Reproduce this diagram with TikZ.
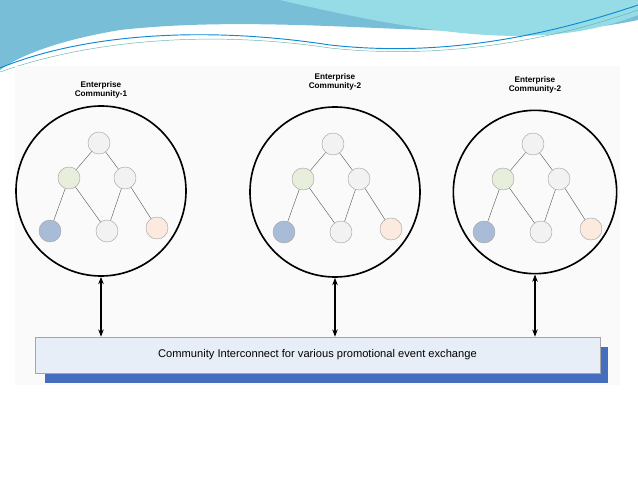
\documentclass[tikz,border=0pt]{standalone}
\usepackage{fontspec}
\setmainfont{Liberation Sans}
\usetikzlibrary{positioning,arrows.meta,calc}
\definecolor{waveA}{RGB}{120,190,215}
\definecolor{waveB}{RGB}{150,220,230}
\definecolor{busshadow}{RGB}{70,110,190}
\definecolor{boxfill}{RGB}{232,238,248}
\definecolor{nodegreen}{RGB}{232,238,220}
\definecolor{nodeblue}{RGB}{168,188,215}
\definecolor{nodepeach}{RGB}{252,234,222}
\begin{document}
\begin{tikzpicture}[x=0.03cm, y=-0.03cm,
    comm/.style={draw, circle, line width=1.4pt, minimum size=5.1cm, inner sep=0pt},
    member/.style={draw=gray!70, circle, minimum size=0.66cm, inner sep=0pt, fill=gray!10},
    link/.style={gray!80!black, thin},
    title/.style={font=\fontsize{7}{8}\selectfont\bfseries, align=center},
    arrow/.style={{Stealth[length=2.2mm]}-{Stealth[length=2.2mm]}, line width=1pt}
]
\useasboundingbox (0,0) rectangle (638,478);
% Slide decoration
\fill[waveA] (0,0) -- (638,0) -- (638,20) .. controls (500,50) and (300,10) .. (120,30) .. controls (60,40) and (20,55) .. (0,70) -- cycle;
\fill[waveB] (280,0) -- (638,0) -- (638,15) .. controls (560,45) and (470,45) .. (280,0) -- cycle;
\draw[cyan!70!blue, thick] (0,68) .. controls (80,35) and (200,25) .. (330,45) .. controls (420,55) and (520,45) .. (638,5);
\draw[teal!60, thin] (0,72) .. controls (90,40) and (210,30) .. (330,48) .. controls (420,58) and (530,48) .. (638,10);
\fill[gray!4] (15,66) rectangle (620,385);
% Communities
\foreach \cx/\cy/\sz/\gap/\name/\lbl [count=\i] in {101/191/5.1/2/c1/Community-1, 335/192/5.1/10/c2/Community-2, 535/192/4.9/10/c3/Community-2}{
  \node[comm, minimum size=\sz cm] (\name) at (\cx,\cy) {};
  \node[title, above=\gap pt of \name] (\name t) {Enterprise\\\lbl};
  \node[member] (\name a) at ($(\cx,\cy)+(-2,-48)$) {};
  \node[member, fill=nodegreen] (\name b) at ($(\cx,\cy)+(-32,-13)$) {};
  \node[member] (\name c) at ($(\cx,\cy)+(24,-13)$) {};
  \node[member, fill=nodeblue] (\name d) at ($(\cx,\cy)+(-51,40)$) {};
  \node[member] (\name e) at ($(\cx,\cy)+(6,40)$) {};
  \node[member, fill=nodepeach] (\name f) at ($(\cx,\cy)+(56,37)$) {};
  \draw[link] (\name a) -- (\name b);
  \draw[link] (\name a) -- (\name c);
  \draw[link] (\name b) -- (\name d);
  \draw[link] (\name b) -- (\name e);
  \draw[link] (\name c) -- (\name e);
  \draw[link] (\name c) -- (\name f);
}
% Interconnect
\fill[busshadow] (45,347) rectangle (608,383);
\node[draw=gray!70, fill=boxfill, minimum width=16.95cm, minimum height=1.08cm, font=\fontsize{9.5}{11}\selectfont] (bus) at (317.5,355) {Community Interconnect for various promotional event exchange};
\foreach \name in {c1,c2,c3}{
  \draw[arrow] (\name.south) -- (\name.south |- bus.north);
}
\end{tikzpicture}
\end{document}
